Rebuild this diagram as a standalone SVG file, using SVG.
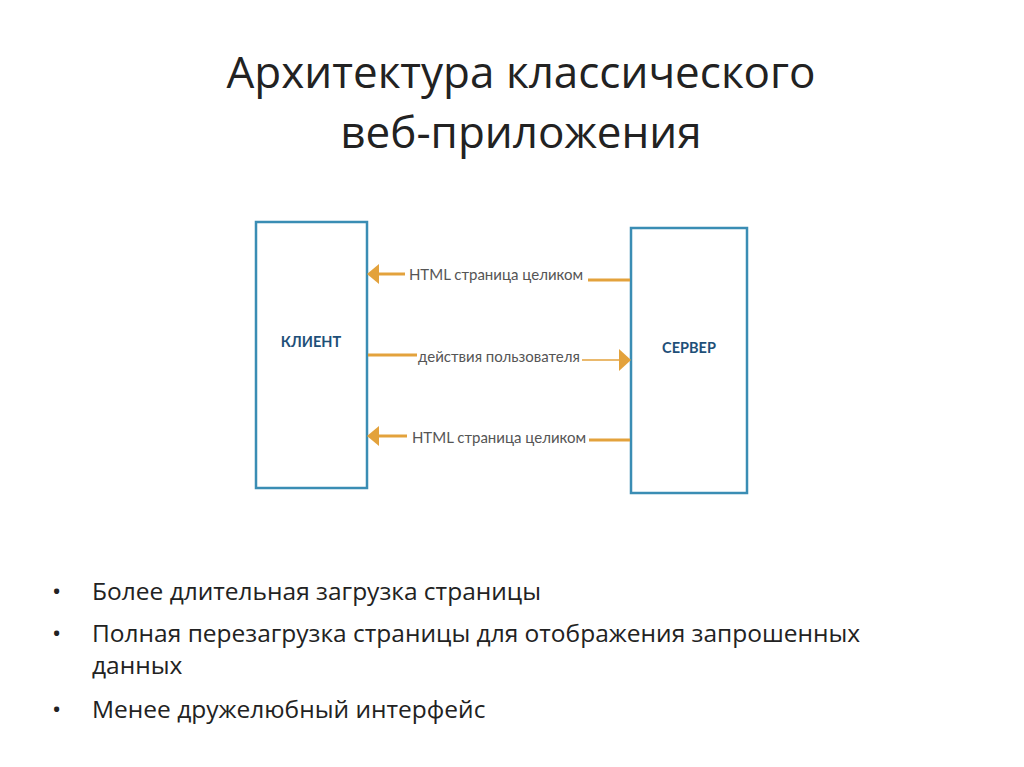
<svg xmlns="http://www.w3.org/2000/svg" width="1024" height="767" viewBox="0 0 1024 767">
<style>
.t{font-family:"Open Sans","Liberation Sans",sans-serif;fill:#222}
.box{fill:#fff;stroke:#3a8db4;stroke-width:2.5}
.lbl{font-family:Lato,"Open Sans",sans-serif;font-size:15px;fill:#555}
.nl{font-family:Lato,"Open Sans",sans-serif;font-size:14.5px;font-weight:bold;fill:#1e4f78}
.c{stroke:#e3a23c;stroke-width:3;fill:none}
.h{fill:#e3a23c}
.b{font-family:"Open Sans","Liberation Sans",sans-serif;font-size:24.5px;fill:#222}
</style>
<rect width="1024" height="767" fill="#fff"/>
<text class="t" font-size="44" text-anchor="middle" x="521" y="88">Архитектура классического</text>
<text class="t" font-size="44" text-anchor="middle" x="521" y="148">веб-приложения</text>
<g id="client"><rect class="box" x="256" y="222" width="111" height="266"/><text class="nl" x="311" y="347" text-anchor="middle">КЛИЕНТ</text></g>
<g id="server"><rect class="box" x="631" y="228" width="116" height="265"/><text class="nl" x="689" y="353" text-anchor="middle">СЕРВЕР</text></g>
<g id="connectors">
<line class="c" x1="376" y1="274" x2="405" y2="274"/><line class="c" x1="588" y1="280" x2="630" y2="280"/><polygon class="h" points="367,274 379,264 379,284"/>
<text class="lbl" x="496" y="280" text-anchor="middle">HTML страница целиком</text>
<line class="c" x1="368" y1="355" x2="417" y2="355"/><line stroke="#e3a23c" stroke-width="1.5" x1="582" y1="360" x2="620" y2="360"/><polygon class="h" points="631,360 619,349 619,371"/>
<text class="lbl" font-size="14.3" x="499" y="362" text-anchor="middle">действия пользователя</text>
<line class="c" x1="376" y1="436" x2="407" y2="436"/><line class="c" x1="589" y1="440" x2="630" y2="440"/><polygon class="h" points="367,436 379,426 379,446"/>
<text class="lbl" x="499" y="443" text-anchor="middle">HTML страница целиком</text>
</g>
<g class="b">
<text x="52" y="600">•</text><text x="92" y="600">Более длительная загрузка страницы</text>
<text x="52" y="642">•</text><text x="92" y="642">Полная перезагрузка страницы для отображения запрошенных</text>
<text x="92" y="674">данных</text>
<text x="52" y="718">•</text><text x="92" y="718">Менее дружелюбный интерфейс</text>
</g>
</svg>
